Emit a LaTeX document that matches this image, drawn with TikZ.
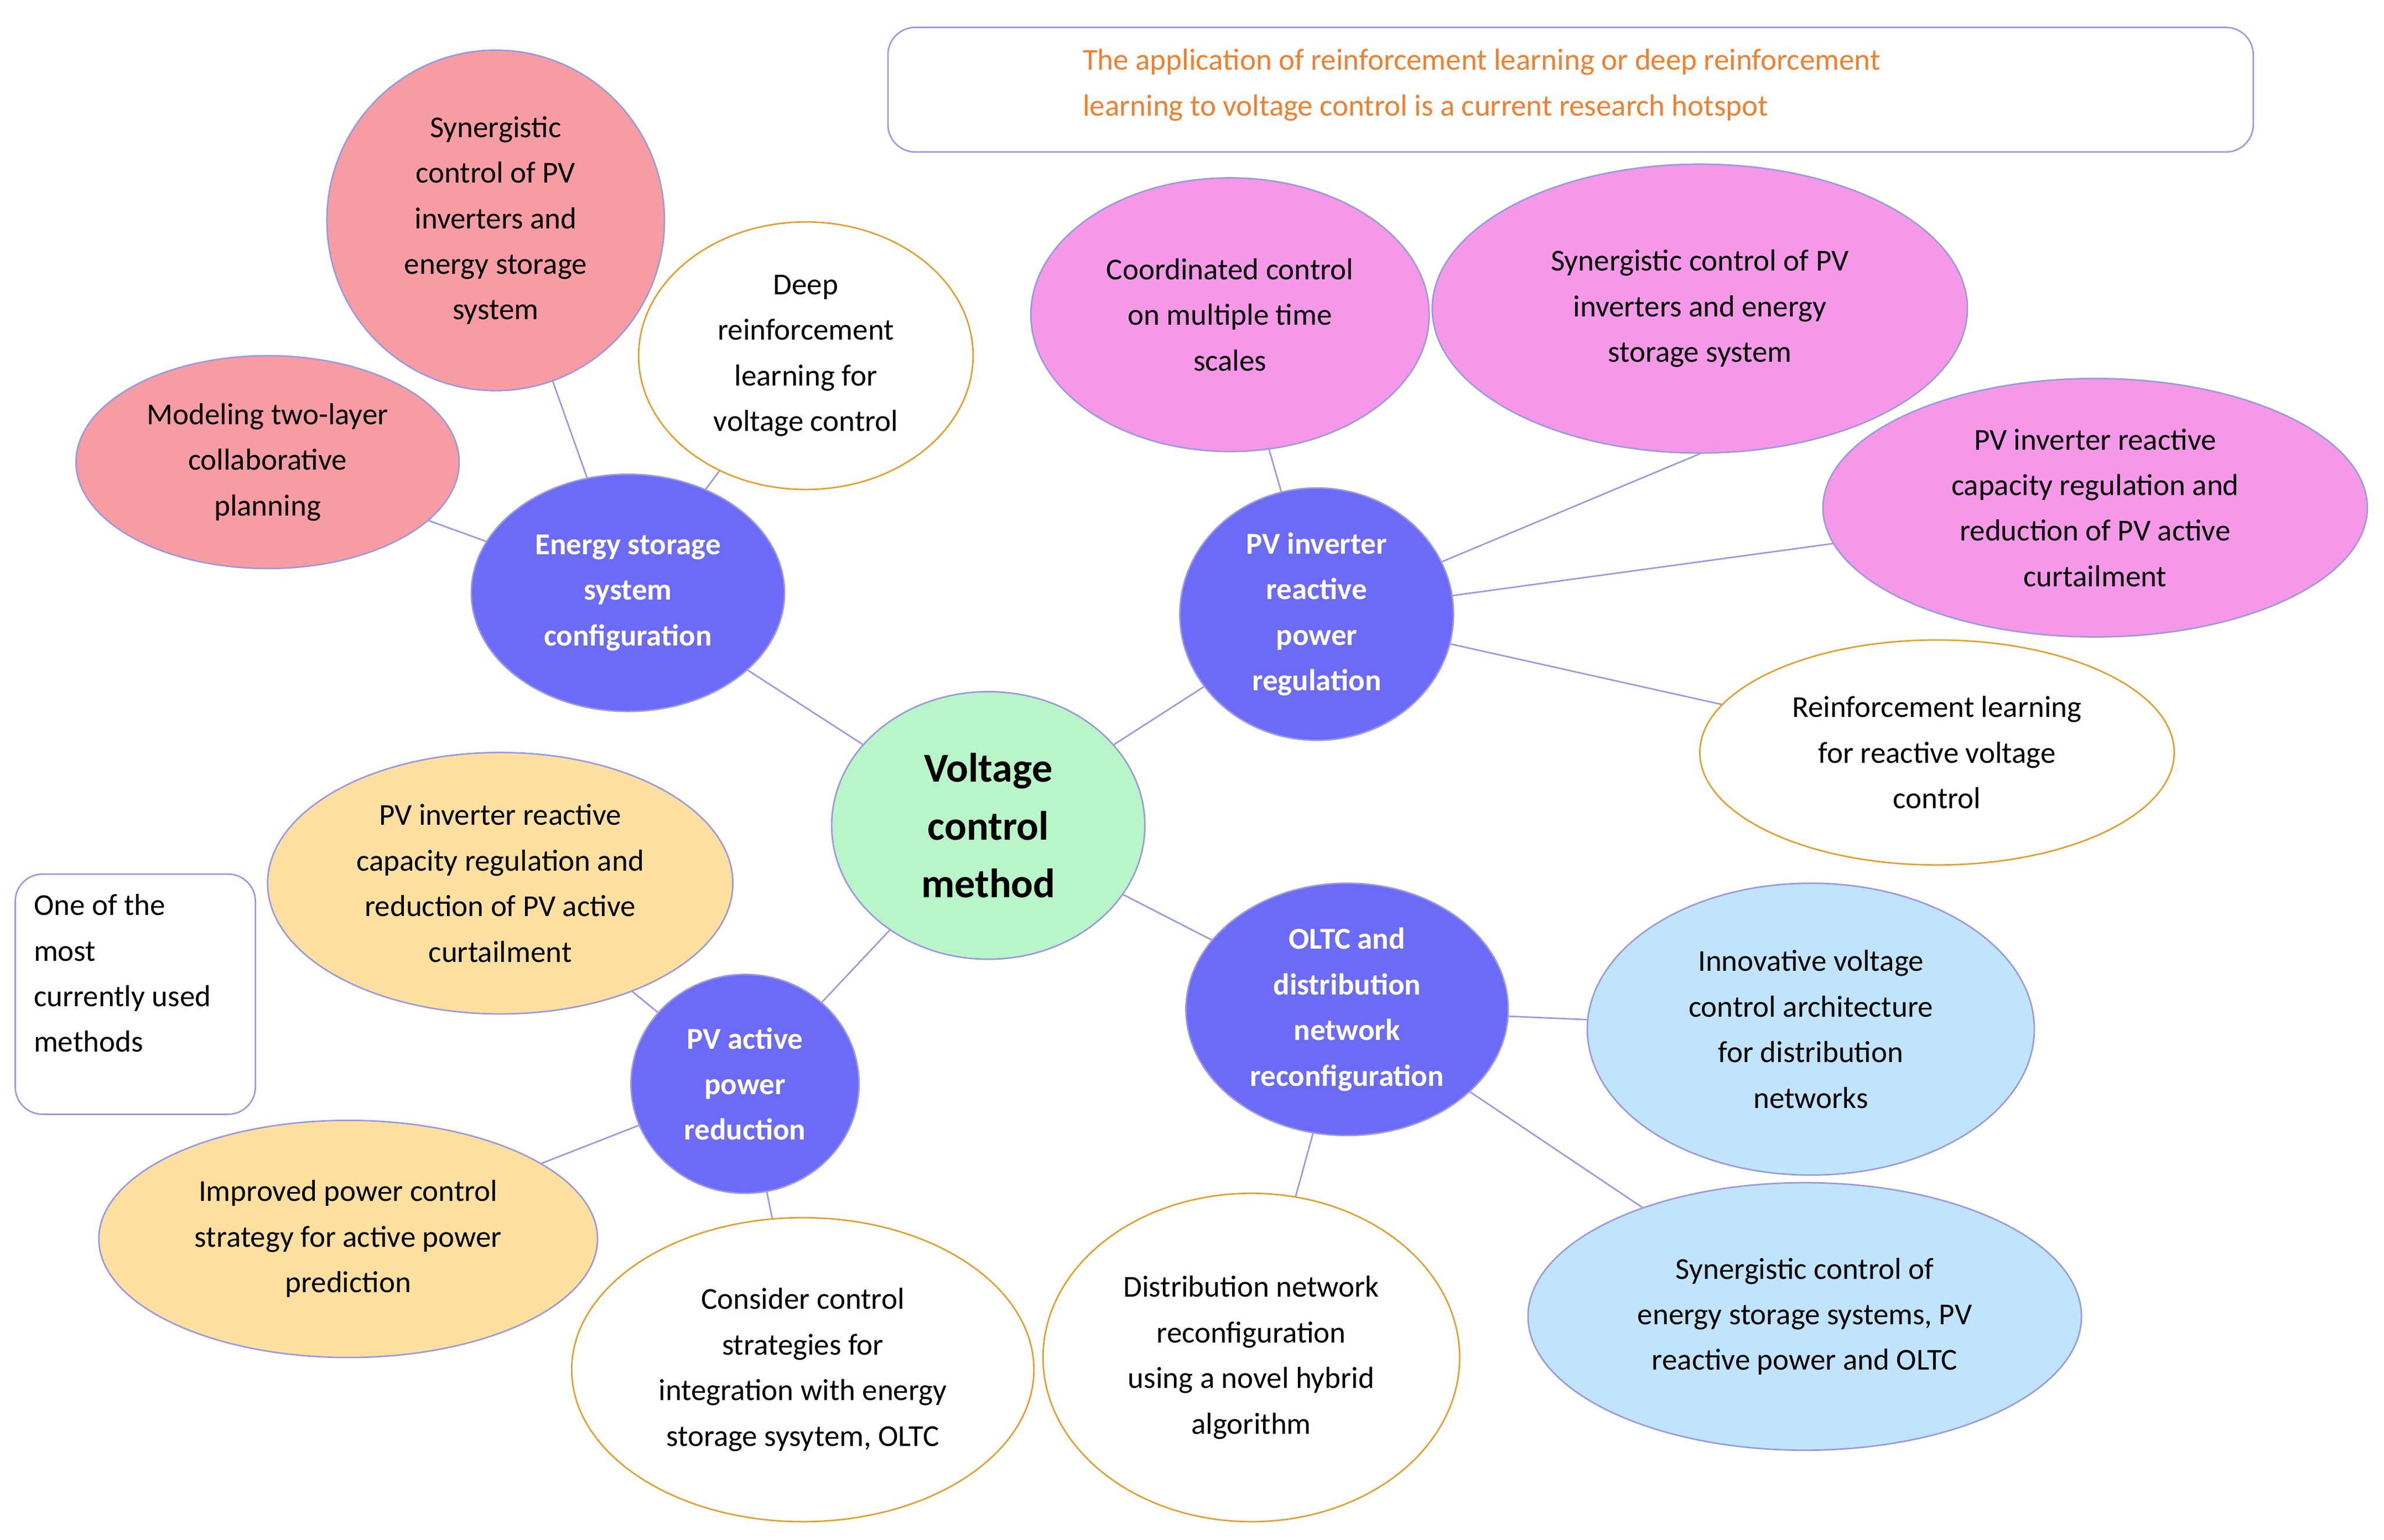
\documentclass[tikz,border=0pt]{standalone}
\usepackage{fontspec}
\setmainfont{Carlito}
\usetikzlibrary{shapes.geometric}
\definecolor{pinkA}{HTML}{F89CA4}
\definecolor{mag}{HTML}{F598E8}
\definecolor{blu}{HTML}{6B6BF7}
\definecolor{grn}{HTML}{B8F5C8}
\definecolor{yel}{HTML}{FDE0A0}
\definecolor{lbl}{HTML}{C0E4FC}
\definecolor{edge}{HTML}{9A9AE0}
\definecolor{gold}{HTML}{E0A030}
\definecolor{org}{HTML}{F08030}
\tikzset{
 el/.style={ellipse,inner sep=0pt,align=center,draw=edge,line width=1pt,font=\fontsize{20}{30}\selectfont},
 wh/.style={el,fill=white,draw=gold},
 bl/.style={el,fill=blu,text=white,font=\fontsize{20}{30}\selectfont\bfseries},
 con/.style={draw=edge,line width=1pt}
}
\newcommand\E[7]{\node[#6,minimum width=#4*2pt,minimum height=#5*2pt] (#1) at (#2,#3) {#7};}
\begin{document}
\begin{tikzpicture}[x=1pt,y=-1pt]
\useasboundingbox (0,0) rectangle (1568,1013);
\E{p1}{326}{145}{111}{112}{el,fill=pinkA}{Synergistic\\control of PV\\inverters and\\energy storage\\system}
\E{deep}{530}{234}{110}{88}{wh}{Deep\\reinforcement\\learning for\\voltage control}
\E{model}{176}{304}{126}{70}{el,fill=pinkA}{Modeling two-layer\\collaborative\\planning}
\E{ess}{413}{390}{103}{78}{bl}{Energy storage\\system\\configuration}
\node[el,fill=grn,minimum width=206pt,minimum height=176pt,font=\fontsize{27}{38}\selectfont\bfseries] (vc) at (650,543) {Voltage\\control\\method};
\E{coord}{809}{207}{131}{90}{el,fill=mag}{Coordinated control\\on multiple time\\scales}
\E{synr}{1118}{203}{176}{95}{el,fill=mag}{Synergistic control of PV\\inverters and energy\\storage system}
\E{capr}{1378}{334}{179}{85}{el,fill=mag}{PV inverter reactive\\capacity regulation and\\reduction of PV active\\curtailment}
\E{pvi}{866}{404}{90}{83}{bl}{PV inverter\\reactive\\power\\regulation}
\E{rl}{1274}{495}{156}{74}{wh}{Reinforcement learning\\for reactive voltage\\control}
\E{capl}{329}{581}{153}{86}{el,fill=yel}{PV inverter reactive\\capacity regulation and\\reduction of PV active\\curtailment}
\E{pva}{490}{713}{75}{72}{bl}{PV active\\power\\reduction}
\E{oltc}{886}{664}{106}{83}{bl}{OLTC and\\distribution\\network\\reconfiguration}
\E{innov}{1191}{677}{147}{96}{el,fill=lbl}{Innovative voltage\\control architecture\\for distribution\\networks}
\E{impr}{229}{815}{164}{78}{el,fill=yel}{Improved power control\\strategy for active power\\prediction}
\E{cons}{528}{901}{152}{100}{wh}{Consider control\\strategies for\\integration with energy\\storage sysytem, OLTC}
\E{dist}{823}{893}{137}{108}{wh}{Distribution network\\reconfiguration\\using a novel hybrid\\algorithm}
\E{syne}{1187}{866}{182}{88}{el,fill=lbl}{Synergistic control of\\energy storage systems, PV\\reactive power and OLTC}
\draw[draw=edge,line width=1pt,rounded corners=18pt] (10,575) rectangle (168,733);
\node[align=left,anchor=north west,font=\fontsize{20}{30}\selectfont,inner sep=0pt] (one) at (22,588) {One of the\\most\\currently used\\methods};
\draw[draw=edge,line width=1pt,rounded corners=18pt] (584,18) rectangle (1482,100);
\node[align=left,anchor=north west,text=org,font=\fontsize{20}{30}\selectfont,inner sep=0pt] (ban) at (712,32) {The application of reinforcement learning or deep reinforcement\\learning to voltage control is a current research hotspot};
\draw[con] (vc) -- (ess); \draw[con] (vc) -- (pvi); \draw[con] (vc) -- (pva); \draw[con] (vc) -- (oltc);
\draw[con] (ess) -- (p1); \draw[con] (ess) -- (model); \draw[con] (ess) -- (deep);
\draw[con] (pvi) -- (coord); \draw[con] (pvi) -- (synr.south); \draw[con] (pvi) -- (capr); \draw[con] (pvi) -- (rl);
\draw[con] (pva) -- (capl); \draw[con] (pva) -- (impr); \draw[con] (pva) -- (cons);
\draw[con] (oltc) -- (innov); \draw[con] (oltc) -- (dist); \draw[con] (oltc) -- (syne);
\end{tikzpicture}
\end{document}
